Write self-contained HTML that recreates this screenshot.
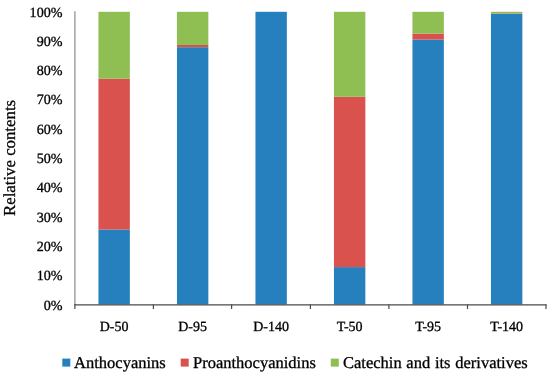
<!DOCTYPE html>
<html><head><meta charset="utf-8"><style>
html,body{margin:0;padding:0;background:#fff;}
body{width:550px;height:377px;overflow:hidden;}
svg{display:block;}
text{text-rendering:geometricPrecision;}
.t{font-family:"Liberation Serif",serif;font-size:14px;fill:#000;stroke:#000;stroke-width:0.3px;}
.ty{font-family:"Liberation Serif",serif;font-size:14.1px;fill:#000;stroke:#000;stroke-width:0.3px;}
.ti{font-family:"Liberation Serif",serif;font-size:16.8px;fill:#000;stroke:#000;stroke-width:0.3px;}
.lg{font-family:"Liberation Serif",serif;font-size:16.5px;fill:#000;stroke:#000;stroke-width:0.3px;}
</style></head><body>
<svg width="550" height="377" viewBox="0 0 550 377">
<rect width="550" height="377" fill="#fff"/>
<rect x="98.45" y="229.50" width="31.4" height="75.00" fill="#2680BD"/>
<rect x="98.45" y="78.70" width="31.4" height="150.80" fill="#DA524E"/>
<rect x="98.45" y="11.80" width="31.4" height="66.90" fill="#8FBE52"/>
<text x="114.15" y="330.5" text-anchor="middle" class="t">D-50</text>
<rect x="176.95" y="47.20" width="31.4" height="257.30" fill="#2680BD"/>
<rect x="176.95" y="45.00" width="31.4" height="2.20" fill="#DA524E"/>
<rect x="176.95" y="11.80" width="31.4" height="33.20" fill="#8FBE52"/>
<text x="192.65" y="330.5" text-anchor="middle" class="t">D-95</text>
<rect x="255.45" y="11.80" width="31.4" height="292.70" fill="#2680BD"/>
<text x="271.15" y="330.5" text-anchor="middle" class="t">D-140</text>
<rect x="333.95" y="267.10" width="31.4" height="37.40" fill="#2680BD"/>
<rect x="333.95" y="96.80" width="31.4" height="170.30" fill="#DA524E"/>
<rect x="333.95" y="11.80" width="31.4" height="85.00" fill="#8FBE52"/>
<text x="349.65" y="330.5" text-anchor="middle" class="t">T-50</text>
<rect x="412.45" y="39.60" width="31.4" height="264.90" fill="#2680BD"/>
<rect x="412.45" y="33.60" width="31.4" height="6.00" fill="#DA524E"/>
<rect x="412.45" y="11.80" width="31.4" height="21.80" fill="#8FBE52"/>
<text x="428.15" y="330.5" text-anchor="middle" class="t">T-95</text>
<rect x="490.95" y="13.80" width="31.4" height="290.70" fill="#2680BD"/>
<rect x="490.95" y="13.40" width="31.4" height="0.40" fill="#DA524E"/>
<rect x="490.95" y="11.80" width="31.4" height="1.60" fill="#8FBE52"/>
<text x="506.65" y="330.5" text-anchor="middle" class="t">T-140</text>
<line x1="74.9" y1="11.3" x2="74.9" y2="305.0" stroke="#8c8c8c" stroke-width="1.2"/>
<line x1="74.30000000000001" y1="304.9" x2="546.5" y2="304.9" stroke="#4a4a4a" stroke-width="1.3"/>
<line x1="74.90" y1="304.5" x2="74.90" y2="309" stroke="#4a4a4a" stroke-width="1.2"/>
<line x1="153.40" y1="304.5" x2="153.40" y2="309" stroke="#4a4a4a" stroke-width="1.2"/>
<line x1="231.60" y1="304.5" x2="231.60" y2="309" stroke="#4a4a4a" stroke-width="1.2"/>
<line x1="310.40" y1="304.5" x2="310.40" y2="309" stroke="#4a4a4a" stroke-width="1.2"/>
<line x1="388.90" y1="304.5" x2="388.90" y2="309" stroke="#4a4a4a" stroke-width="1.2"/>
<line x1="467.50" y1="304.5" x2="467.50" y2="309" stroke="#4a4a4a" stroke-width="1.2"/>
<line x1="546.00" y1="304.5" x2="546.00" y2="309" stroke="#4a4a4a" stroke-width="1.2"/>
<text x="62.5" y="309.50" text-anchor="end" class="ty">0%</text>
<text x="62.5" y="280.20" text-anchor="end" class="ty">10%</text>
<text x="62.5" y="250.90" text-anchor="end" class="ty">20%</text>
<text x="62.5" y="221.60" text-anchor="end" class="ty">30%</text>
<text x="62.5" y="192.30" text-anchor="end" class="ty">40%</text>
<text x="62.5" y="163.00" text-anchor="end" class="ty">50%</text>
<text x="62.5" y="133.70" text-anchor="end" class="ty">60%</text>
<text x="62.5" y="104.40" text-anchor="end" class="ty">70%</text>
<text x="62.5" y="75.10" text-anchor="end" class="ty">80%</text>
<text x="62.5" y="45.80" text-anchor="end" class="ty">90%</text>
<text x="62.5" y="16.50" text-anchor="end" class="ty">100%</text>
<text transform="translate(14.9,157.95) rotate(-90)" text-anchor="middle" class="ti">Relative contents</text>
<rect x="62.3" y="358.6" width="8" height="8" fill="#2680BD"/>
<text x="74.1" y="368.0" class="lg">Anthocyanins</text>
<rect x="180.7" y="358.6" width="8" height="8" fill="#DA524E"/>
<text x="193.0" y="368.0" class="lg">Proanthocyanidins</text>
<rect x="330.8" y="358.6" width="8" height="8" fill="#8FBE52"/>
<text x="343.0" y="368.0" class="lg" word-spacing="0.6">Catechin and its derivatives</text>
</svg>
</body></html>
